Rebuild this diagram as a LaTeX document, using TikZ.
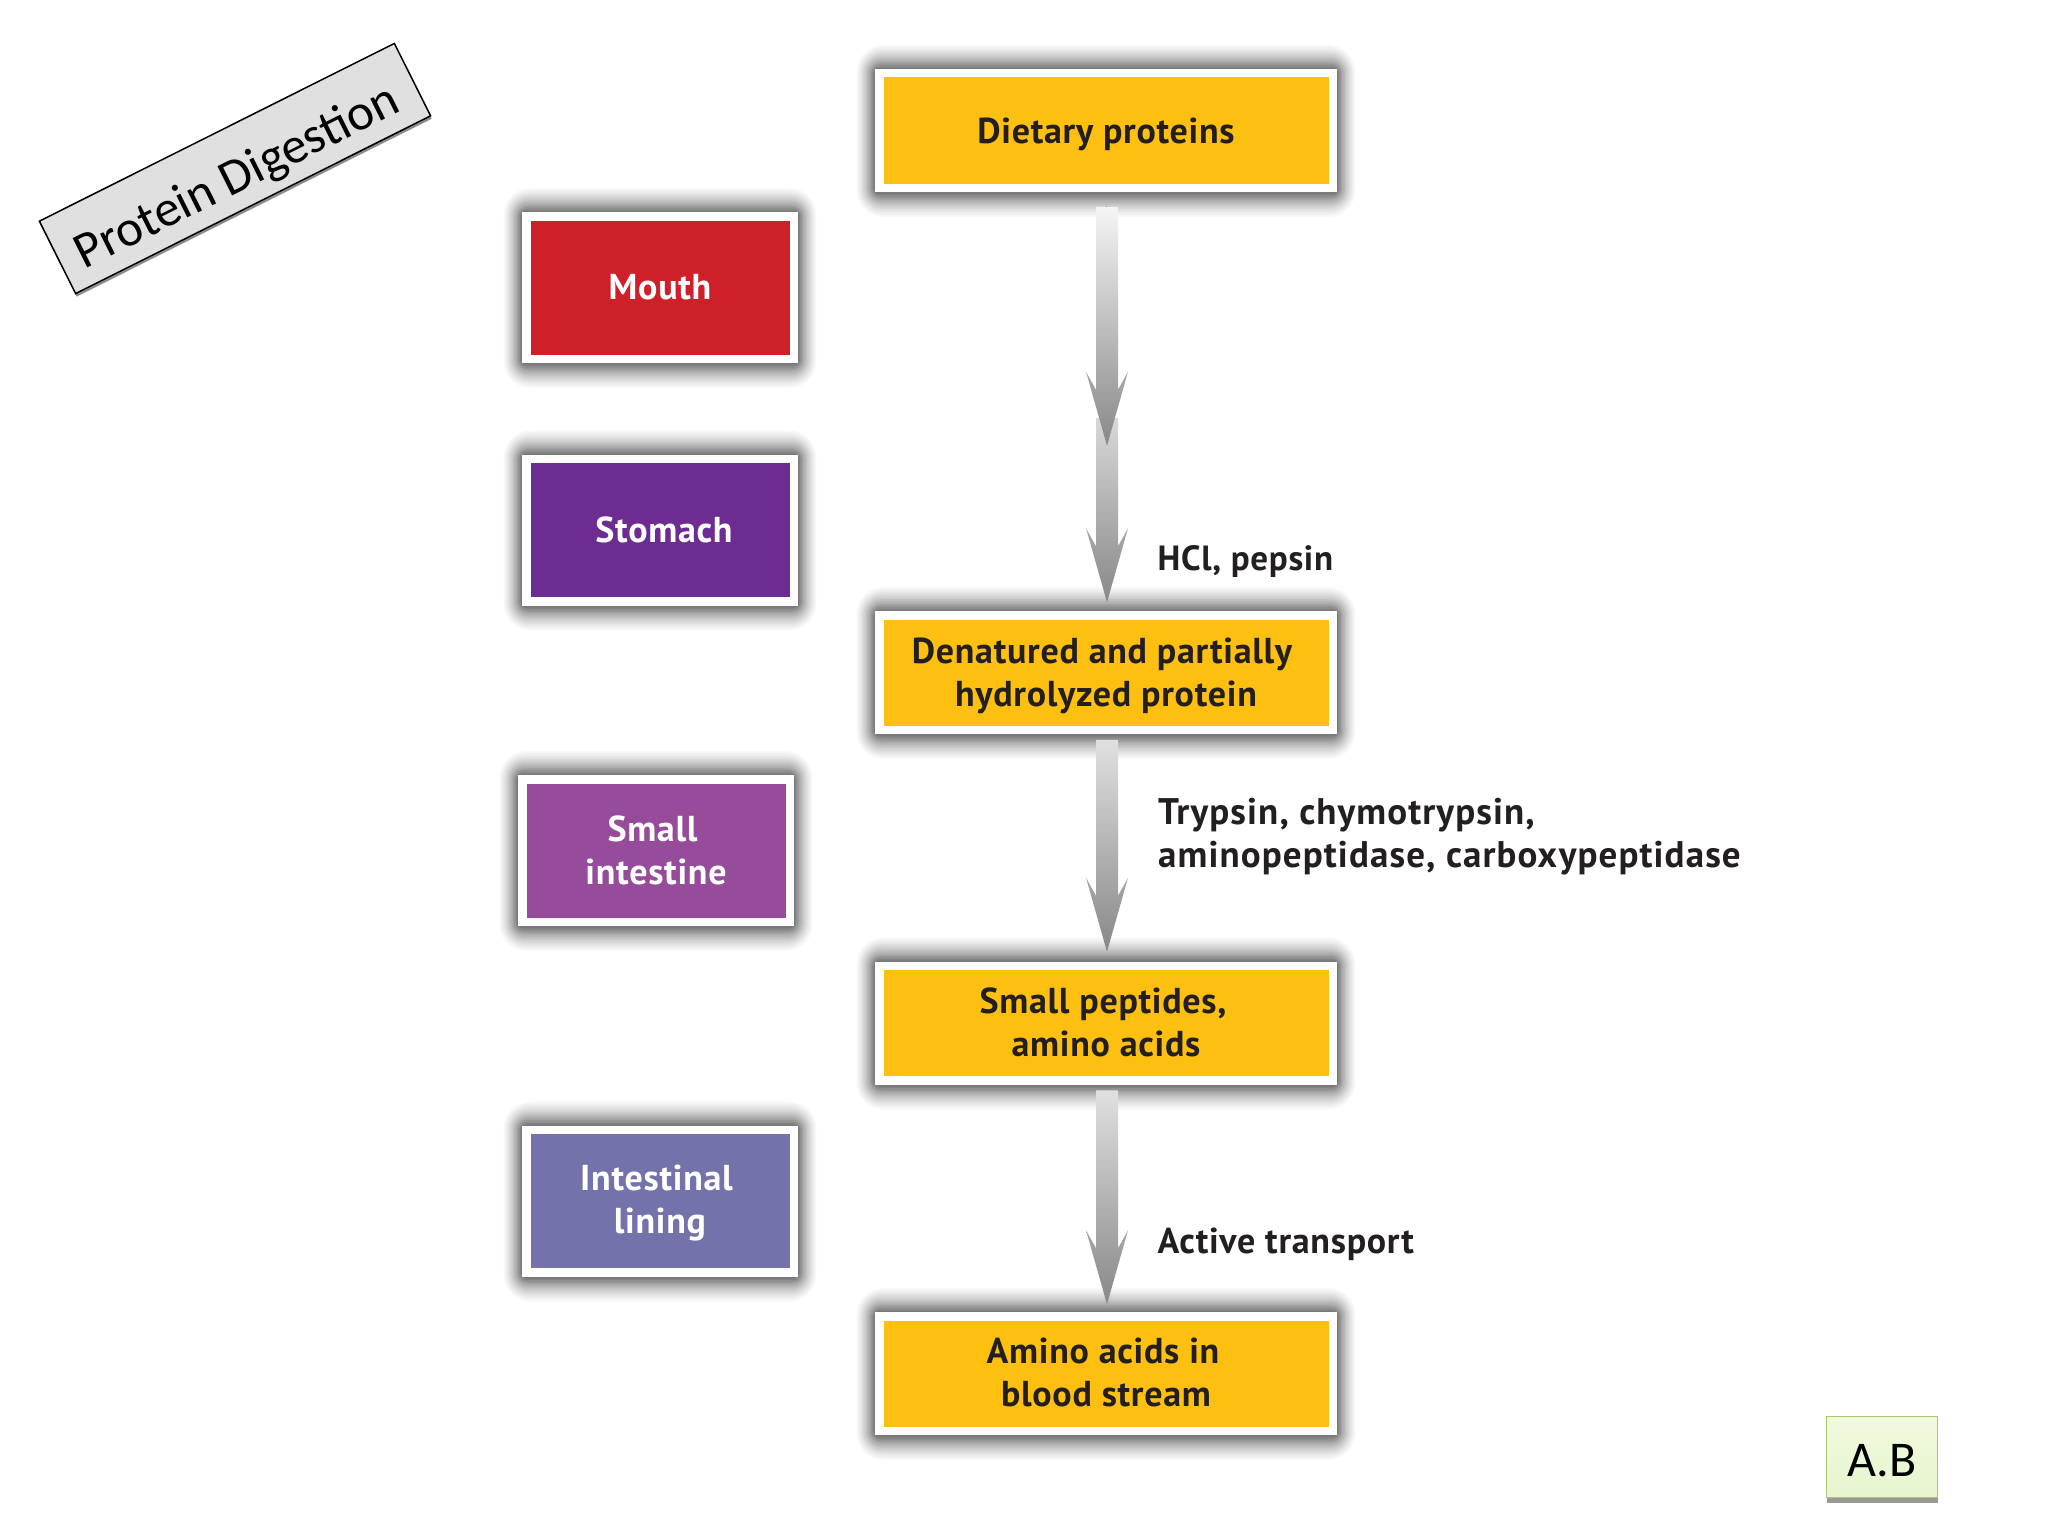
\documentclass[tikz,border=0pt]{standalone}
\usepackage{fontspec}
\setmainfont{PT Sans}
\newfontfamily\boxfont[LetterSpace=2]{PT Sans}
\newfontfamily\widefont[LetterSpace=3]{PT Sans}
\newfontfamily\calfont{Carlito}
\usetikzlibrary{calc,shadows}
\pgfdeclarelayer{bg}
\pgfsetlayers{bg,main}
\definecolor{gold}{RGB}{254,192,16}
\definecolor{inkdark}{RGB}{35,31,32}
\definecolor{mouthred}{RGB}{206,32,41}
\definecolor{stomachpurple}{RGB}{109,44,145}
\definecolor{intestinepurple}{RGB}{151,75,155}
\definecolor{liningblue}{RGB}{116,114,171}
\definecolor{arrowend}{RGB}{136,136,138}
\definecolor{abtop}{RGB}{240,250,222}
\definecolor{abbottom}{RGB}{230,245,206}
\definecolor{abline}{RGB}{168,200,106}
\tikzset{
  x=1pt,y=-1pt,
  flowbox/.style={draw=white,line width=8.5pt,outer sep=0pt,inner sep=0pt,align=center,
    font=\boxfont\fontsize{36}{43}\selectfont\bfseries},
  stagebox/.style={flowbox,fill=gold,text=inkdark,minimum width=453.5pt,minimum height=114.5pt},
  organbox/.style={flowbox,text=white,minimum width=267.5pt,minimum height=142.5pt},
  enzyme/.style={anchor=base west,align=left,text=inkdark,inner sep=0pt,
    font=\boxfont\fontsize{36}{43}\selectfont\bfseries},
  flowline/.style={draw=arrowend,line width=1pt,shorten <=18pt,shorten >=16pt},
}
% blurred halo: strong next to the box, vanishing further out
\newcommand{\softshadow}[1]{%
  \foreach \i in {1,...,14}{%
    \pgfmathsetmacro{\d}{0.9*\i+0.03*\i*\i}%
    \pgfmathsetmacro{\dx}{4.25+\d}%
    \pgfmathsetmacro{\dy}{4.25+1.3*\d}%
    \pgfmathsetmacro{\rc}{5+1.2*\d}%
    \pgfmathsetmacro{\op}{0.075-0.0035*\i}%
    \fill[black,opacity=\op,rounded corners=\rc pt]
      ($(#1.south west)+(-\dx,\dy+1)$) rectangle ($(#1.north east)+(\dx,-\dy)$);
  }%
}
\newcommand{\lowerby}[1]{\rule{0pt}{#1pt}}
\newcommand{\dropby}{\rule[-10pt]{0pt}{10pt}}
% arrow body: #1 start point, #2 tip point, #3 top colour
\newcommand{\flowarrow}[3]{%
  \shade[top color=#3,bottom color=arrowend]
    ($(#1)+(-11,0)$) -- ($(#2)+(-11,-56)$) -- ($(#2)+(-21,-74)$) -- (#2)
    -- ($(#2)+(21,-74)$) -- ($(#2)+(11,-56)$) -- ($(#1)+(11,0)$) -- cycle;
}
\begin{document}
\begin{tikzpicture}
\useasboundingbox (0,0) rectangle (2048,1536);
\begin{pgfonlayer}{bg}
  \fill[white] (0,0) rectangle (2048,1536);
\end{pgfonlayer}

\node[stagebox] (dp) at (1106,130.5) {\lowerby{33}Dietary proteins};
\node[stagebox] (dn) at (1106,672.5) {\lowerby{35}Denatured and partially\kern 8pt\\\dropby hydrolyzed protein};
\node[stagebox] (sp) at (1106,1023) {\lowerby{34}Small peptides,\kern 6pt\\\dropby amino acids};
\node[stagebox] (aa) at (1106,1373.5) {\lowerby{32}Amino acids in\kern 6pt\\\dropby blood stream};

\node[organbox,fill=mouthred] (mo) at (660,287.5) {Mouth};
\node[organbox,fill=stomachpurple] (st) at (660,530) {\kern 8pt Stomach};
\node[organbox,fill=intestinepurple] (si) at (656,850.5) {Small\kern 7pt\\intestine};
\node[organbox,fill=liningblue] (il) at (660,1201) {\lowerby{30}Intestinal\kern 7pt\\lining};

\begin{pgfonlayer}{bg}
  \foreach \n in {dp,dn,sp,aa,mo,st,si,il}{\softshadow{\n}}
\end{pgfonlayer}

\coordinate (bend) at ($(dp.south)+(1,258)$);
\coordinate (dptop) at ($(dp.south)+(1,19)$);
\coordinate (dnshaft) at ($(bend)+(0,-28)$);
\coordinate (dntip) at ($(dn.north)+(1,-13)$);
\coordinate (sptop) at ($(dn.south)+(1,10)$);
\coordinate (sptip) at ($(sp.north)+(1,-14)$);
\coordinate (aatop) at ($(sp.south)+(1,10)$);
\coordinate (aatip) at ($(aa.north)+(1,-12)$);

\draw[flowline] (dp.south) -- (dn.north);
\draw[flowline] (dn.south) -- (sp.north);
\draw[flowline] (sp.south) -- (aa.north);

\flowarrow{dnshaft}{dntip}{white!85!black}
\flowarrow{dptop}{bend}{white!96!black}
\flowarrow{sptop}{sptip}{white!88!black}
\flowarrow{aatop}{aatip}{white!88!black}

\node[enzyme,font=\boxfont\fontsize{35}{43}\selectfont\bfseries] (e1) at (1157.5,570) {HCl, pepsin};
\node[enzyme,font=\widefont\fontsize{37}{43}\selectfont\bfseries] (e2) at (1158,867) {Trypsin, chymotrypsin,\\aminopeptidase, carboxypeptidase};
\node[enzyme] (e3) at (1157.5,1253) {Active transport};

\node[draw=black,line width=1.5pt,fill=black!12,minimum width=397pt,minimum height=81pt,
  inner sep=0pt,rotate=26.6,text=black,font=\calfont\fontsize{51}{60}\selectfont,
  drop shadow={shadow xshift=1pt,shadow yshift=-3pt,fill=black!45,opacity=1}]
  (title) at (235,168.5) {\rule{0pt}{55pt}Protein Digestion\kern 4pt};

\node[draw=abline,line width=1.5pt,top color=abtop,bottom color=abbottom,
  minimum width=111pt,minimum height=81pt,inner sep=0pt,
  font=\calfont\fontsize{50}{60}\selectfont,text=black,
  drop shadow={shadow xshift=0pt,shadow yshift=-5pt,fill=black!40,opacity=1}]
  (ab) at (1882,1457) {\rule{0pt}{40pt}A.B};
\end{tikzpicture}
\end{document}
